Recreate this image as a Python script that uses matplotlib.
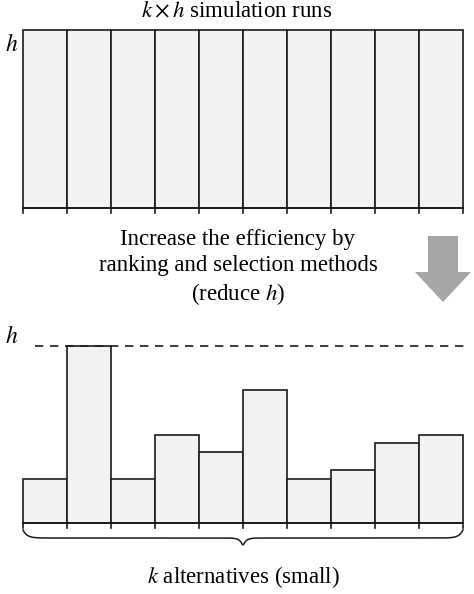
import matplotlib
matplotlib.use('Agg')
import matplotlib.pyplot as plt
from matplotlib.patches import FancyArrow
import numpy as np

plt.rcParams['font.family'] = ['Liberation Serif', 'DejaVu Serif']
plt.rcParams['mathtext.fontset'] = 'stix'

# ── Data ──────────────────────────────────────────────────────────────────────
n_alt = 10
top_frac = [1.0] * n_alt
bottom_frac = [0.25, 1.0, 0.25, 0.5, 0.4, 0.75, 0.25, 0.3, 0.45, 0.5]

fig = plt.figure(figsize=(4.74, 5.94), dpi=100)
ax = fig.add_axes([0, 0, 1, 1])
ax.set_xlim(0, 474)
ax.set_ylim(594, 0)
ax.axis("off")

x0, bw = 23, 44
xs = x0 + bw * np.arange(n_alt) + bw / 2
face, edge = "#f2f2f2", "#1a1a1a"

def panel(fracs, base, full):
    ax.bar(xs, [-f * full for f in fracs], bottom=base, width=bw,
           color=face, edgecolor=edge, linewidth=1.2)
    ax.plot([x0, x0 + bw * n_alt], [base, base], color=edge, lw=1.2)
    for i in range(n_alt + 1):
        xe = x0 + bw * i
        ax.plot([xe, xe], [base, base + 5], color=edge, lw=1.2)

# top panel
panel(top_frac, 208, 178)
ax.text(237, 12, r"$k \times h$ simulation runs", ha="center", va="center", fontsize=16.5)
ax.text(5, 45, r"$h$", ha="left", va="center", fontsize=17)

# middle text and arrow
ax.text(238, 268, "Increase the efficiency by\nranking and selection methods\n(reduce $h$)",
        ha="center", va="center", fontsize=16.5, linespacing=1.3)
ax.add_patch(FancyArrow(443, 236, 0, 36, width=30, head_width=56, head_length=30,
                        length_includes_head=False, color="#a6a6a6", lw=0))

# bottom panel
panel(bottom_frac, 523, 177)
ax.plot([35, 466], [346, 346], color=edge, lw=1.2, ls=(0, (5, 4)))
ax.text(5, 337, r"$h$", ha="left", va="center", fontsize=17)

# brace
bx = np.linspace(23, 463, 400)
mid = 243
yb = 530 + 8 * (1 - np.exp(-np.abs(bx - 23) / 4)) * (1 - np.exp(-np.abs(bx - 463) / 4))
yb = yb + 8 * np.exp(-np.abs(bx - mid) / 3)
ax.plot(bx, yb, color=edge, lw=1.1)

ax.text(243, 577, r"$k$ alternatives (small)", ha="center", va="center", fontsize=16.5)

plt.savefig("out.png", dpi=100)
plt.close()
